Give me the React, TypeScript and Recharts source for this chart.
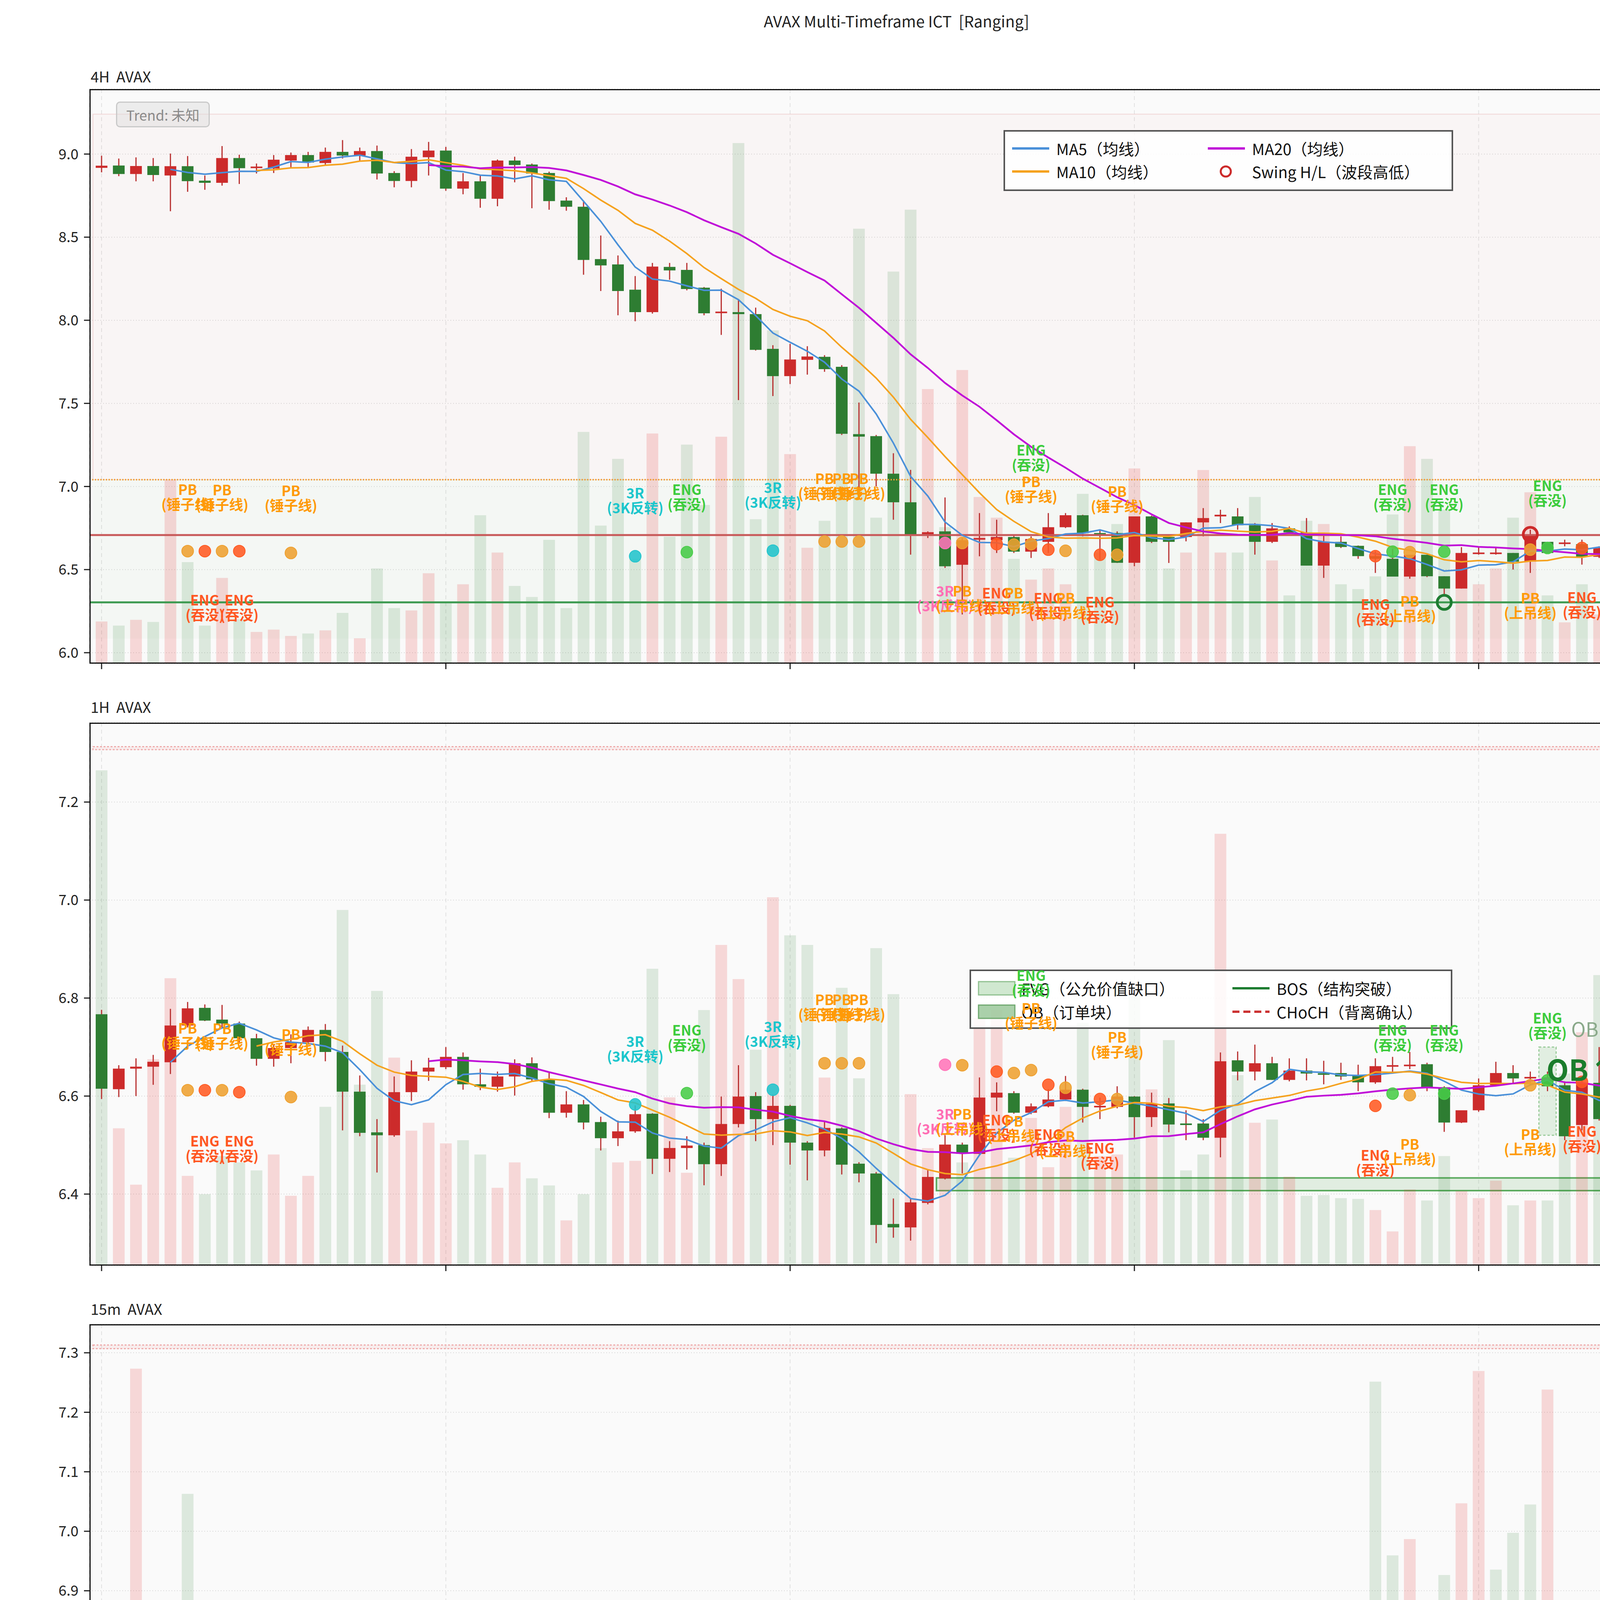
import React from 'react'
import {
  ComposedChart,
  Bar,
  Line,
  XAxis,
  YAxis,
  CartesianGrid,
  ReferenceArea,
  ReferenceLine,
  ReferenceDot,
  Cell,
} from 'recharts'

const FONT = '"Noto Sans CJK SC", "Noto Sans", sans-serif'
const W = 4293
const UP = '#cc2b2b'
const DOWN = '#2e7d32'
const WICK = '#b83030'
const VOL_UP = 'rgba(229,57,53,0.18)'
const VOL_DOWN = 'rgba(46,125,50,0.14)'
const MA5C = '#4a90d9'
const MA10C = '#f5a21f'
const MA20C = '#c010d8'

// ---- data: [open, high, low, close] per bar, index 0..89 ----
const h4Ohlc = [
  [8.917, 8.99, 8.89, 8.93], [8.931, 8.973, 8.867, 8.88], [8.88, 8.98, 8.836, 8.928], [8.928, 8.976, 8.836, 8.874], [8.871, 9.003, 8.656, 8.927],
  [8.927, 8.988, 8.773, 8.837], [8.84, 8.871, 8.785, 8.827], [8.827, 9.048, 8.81, 8.976], [8.976, 8.996, 8.82, 8.915], [8.916, 8.943, 8.883, 8.924],
  [8.913, 8.994, 8.886, 8.966], [8.961, 9.009, 8.919, 8.994], [8.994, 9.013, 8.919, 8.949], [8.946, 9.039, 8.931, 9.013], [9.013, 9.084, 8.973, 8.991],
  [8.991, 9.039, 8.961, 9.018], [9.018, 9.051, 8.847, 8.883], [8.886, 8.897, 8.8, 8.838], [8.838, 9.03, 8.8, 8.984], [8.981, 9.073, 8.871, 9.021],
  [9.021, 9.043, 8.779, 8.792], [8.792, 8.886, 8.758, 8.836], [8.836, 8.871, 8.677, 8.731], [8.731, 8.967, 8.686, 8.961], [8.961, 8.984, 8.83, 8.934],
  [8.937, 8.943, 8.674, 8.883], [8.886, 8.894, 8.665, 8.717], [8.72, 8.74, 8.659, 8.683], [8.683, 8.72, 8.274, 8.363], [8.368, 8.51, 8.176, 8.33],
  [8.336, 8.39, 8.03, 8.176], [8.184, 8.266, 7.994, 8.049], [8.049, 8.345, 8.04, 8.323], [8.321, 8.345, 8.244, 8.3], [8.303, 8.345, 8.18, 8.188],
  [8.196, 8.2, 8.03, 8.042], [8.043, 8.19, 7.912, 8.052], [8.049, 8.124, 7.52, 8.037], [8.037, 8.076, 7.818, 7.822], [7.828, 7.85, 7.544, 7.664],
  [7.664, 7.858, 7.616, 7.764], [7.762, 7.844, 7.673, 7.782], [7.78, 7.79, 7.69, 7.706], [7.72, 7.73, 7.31, 7.317], [7.315, 7.505, 6.98, 7.3],
  [7.303, 7.31, 7.0, 7.077], [7.077, 7.2, 6.8, 6.905], [6.905, 7.1, 6.59, 6.705], [6.705, 6.73, 6.69, 6.725], [6.73, 6.934, 6.51, 6.52],
  [6.529, 6.69, 6.23, 6.677], [6.68, 6.84, 6.58, 6.69], [6.677, 6.8, 6.6, 6.696], [6.696, 6.71, 6.6, 6.608], [6.608, 6.7, 6.57, 6.684],
  [6.667, 6.84, 6.6, 6.755], [6.755, 6.84, 6.75, 6.827], [6.827, 6.83, 6.7, 6.72], [6.72, 6.74, 6.56, 6.708], [6.72, 6.73, 6.54, 6.541],
  [6.541, 6.82, 6.52, 6.82], [6.82, 6.825, 6.66, 6.667], [6.696, 6.7, 6.54, 6.667], [6.696, 6.784, 6.67, 6.784], [6.784, 6.87, 6.7, 6.81],
  [6.82, 6.86, 6.78, 6.83], [6.82, 6.87, 6.74, 6.767], [6.767, 6.78, 6.59, 6.667], [6.667, 6.78, 6.66, 6.748], [6.748, 6.76, 6.72, 6.724],
  [6.724, 6.81, 6.524, 6.524], [6.524, 6.72, 6.45, 6.667], [6.667, 6.7, 6.63, 6.636], [6.643, 6.645, 6.565, 6.581], [6.581, 6.61, 6.48, 6.565],
  [6.565, 6.625, 6.458, 6.458], [6.458, 6.589, 6.445, 6.589], [6.589, 6.59, 6.455, 6.46], [6.46, 6.46, 6.35, 6.386], [6.386, 6.635, 6.386, 6.6],
  [6.596, 6.635, 6.59, 6.6], [6.596, 6.635, 6.59, 6.6], [6.6, 6.6, 6.5, 6.548], [6.548, 6.74, 6.48, 6.708], [6.667, 6.667, 6.6, 6.6],
  [6.655, 6.68, 6.64, 6.662], [6.653, 6.68, 6.53, 6.577], [6.577, 6.64, 6.57, 6.629], [6.636, 6.7, 6.53, 6.558], [6.605, 6.65, 6.53, 6.558],
]
const h4Vol = [
  26.6, 24, 27.6, 26.3, 116, 64, 24, 54, 28, 20,
  21.5, 17.5, 19, 21, 32, 16, 60, 35, 33.5, 57,
  38, 50, 93.5, 70, 49, 42, 78, 35, 146, 87,
  129, 66, 145, 80, 138, 100, 143, 328, 91, 210,
  132, 73, 90, 180, 274, 92, 247, 286, 173, 86,
  185, 105, 92, 66, 53, 60, 50, 107, 70, 88,
  123, 80, 60, 70, 122, 70, 70, 105, 65, 43,
  90, 88, 50, 47, 55, 94, 137, 129, 97, 60,
  50, 60, 92, 108, 43, 26, 50, 31, 90, 23,
]

const h1Ohlc = [
  [6.767, 6.776, 6.594, 6.615], [6.614, 6.663, 6.598, 6.656], [6.656, 6.677, 6.6, 6.66], [6.66, 6.684, 6.623, 6.67], [6.669, 6.778, 6.645, 6.744],
  [6.744, 6.792, 6.74, 6.779], [6.78, 6.787, 6.753, 6.754], [6.756, 6.786, 6.74, 6.748], [6.748, 6.752, 6.71, 6.718], [6.718, 6.727, 6.662, 6.676],
  [6.676, 6.705, 6.66, 6.698], [6.698, 6.726, 6.667, 6.71], [6.71, 6.742, 6.705, 6.735], [6.735, 6.747, 6.671, 6.69], [6.69, 6.703, 6.53, 6.609],
  [6.609, 6.642, 6.518, 6.525], [6.526, 6.553, 6.444, 6.52], [6.52, 6.64, 6.517, 6.608], [6.608, 6.673, 6.59, 6.65], [6.65, 6.678, 6.631, 6.658],
  [6.659, 6.7, 6.655, 6.68], [6.68, 6.689, 6.613, 6.624], [6.624, 6.656, 6.612, 6.619], [6.619, 6.65, 6.609, 6.64], [6.64, 6.675, 6.601, 6.667],
  [6.667, 6.679, 6.63, 6.634], [6.634, 6.65, 6.555, 6.566], [6.566, 6.61, 6.556, 6.583], [6.583, 6.592, 6.532, 6.546], [6.547, 6.558, 6.489, 6.514],
  [6.514, 6.55, 6.498, 6.528], [6.528, 6.581, 6.525, 6.563], [6.564, 6.565, 6.441, 6.472], [6.472, 6.508, 6.445, 6.494], [6.494, 6.518, 6.45, 6.499],
  [6.5, 6.505, 6.418, 6.461], [6.461, 6.599, 6.437, 6.543], [6.543, 6.663, 6.536, 6.599], [6.6, 6.608, 6.508, 6.553], [6.553, 6.603, 6.5, 6.58],
  [6.58, 6.582, 6.46, 6.505], [6.505, 6.508, 6.428, 6.489], [6.489, 6.548, 6.477, 6.535], [6.534, 6.536, 6.44, 6.46], [6.462, 6.465, 6.424, 6.442],
  [6.442, 6.445, 6.3, 6.337], [6.339, 6.391, 6.311, 6.332], [6.332, 6.39, 6.305, 6.383], [6.382, 6.45, 6.379, 6.435], [6.432, 6.52, 6.43, 6.501],
  [6.501, 6.505, 6.442, 6.482], [6.482, 6.638, 6.48, 6.597], [6.597, 6.628, 6.569, 6.607], [6.606, 6.61, 6.564, 6.566], [6.566, 6.585, 6.563, 6.579],
  [6.579, 6.614, 6.577, 6.593], [6.593, 6.641, 6.59, 6.613], [6.613, 6.615, 6.546, 6.578], [6.578, 6.597, 6.553, 6.579], [6.578, 6.62, 6.575, 6.599],
  [6.599, 6.6, 6.515, 6.557], [6.557, 6.607, 6.537, 6.584], [6.585, 6.596, 6.526, 6.542], [6.543, 6.571, 6.51, 6.542], [6.544, 6.553, 6.51, 6.515],
  [6.515, 6.689, 6.475, 6.671], [6.673, 6.691, 6.632, 6.65], [6.65, 6.705, 6.632, 6.667], [6.667, 6.68, 6.633, 6.633], [6.633, 6.677, 6.63, 6.652],
  [6.652, 6.677, 6.632, 6.646], [6.646, 6.672, 6.624, 6.644], [6.647, 6.668, 6.633, 6.64], [6.642, 6.664, 6.61, 6.628], [6.628, 6.677, 6.625, 6.661],
  [6.661, 6.68, 6.646, 6.662], [6.661, 6.69, 6.655, 6.664], [6.665, 6.668, 6.61, 6.618], [6.618, 6.62, 6.527, 6.546], [6.546, 6.558, 6.545, 6.571],
  [6.571, 6.636, 6.568, 6.622], [6.622, 6.67, 6.62, 6.647], [6.647, 6.663, 6.625, 6.636], [6.637, 6.65, 6.623, 6.638], [6.638, 6.65, 6.61, 6.62],
  [6.622, 6.63, 6.51, 6.518], [6.541, 6.64, 6.53, 6.627], [6.627, 6.7, 6.55, 6.553], [6.551, 6.63, 6.515, 6.622], [6.623, 6.652, 6.606, 6.61],
]
const h1Vol = [
  312, 86.5, 51, 130, 181, 56.5, 45, 69, 65, 60,
  70, 44, 56.5, 100, 224, 114, 173, 131, 85, 90,
  77, 79, 70, 49, 65, 55, 50.5, 28.5, 45, 74,
  65, 66, 187, 106, 58.5, 161, 202, 180.5, 136, 232,
  208, 202, 118.5, 175, 118, 200, 171, 108, 74, 70,
  65, 156, 161, 68, 93, 62, 100, 153, 69, 70,
  172, 111, 142, 60, 70, 272, 120, 90, 92, 56,
  44, 44.5, 42.5, 42, 35, 21.5, 48, 41, 69, 47,
  42.5, 53.5, 38, 41, 41, 121, 147, 183, 83, 29,
]

const m15Ohlc = [
  [6.649, 6.668, 6.633, 6.651], [6.65, 6.669, 6.647, 6.657], [6.656, 6.707, 6.655, 6.676], [6.676, 6.678, 6.661, 6.667], [6.668, 6.678, 6.656, 6.661],
  [6.662, 6.67, 6.612, 6.621], [6.622, 6.625, 6.605, 6.609], [6.609, 6.636, 6.605, 6.634], [6.634, 6.672, 6.633, 6.667], [6.666, 6.668, 6.645, 6.646],
  [6.646, 6.652, 6.642, 6.65], [6.654, 6.667, 6.64, 6.65], [6.649, 6.667, 6.645, 6.652], [6.652, 6.663, 6.647, 6.663], [6.663, 6.677, 6.638, 6.642],
  [6.641, 6.655, 6.629, 6.645], [6.647, 6.649, 6.625, 6.637], [6.638, 6.64, 6.632, 6.633], [6.633, 6.672, 6.632, 6.657], [6.657, 6.66, 6.644, 6.644],
  [6.644, 6.664, 6.637, 6.656], [6.656, 6.66, 6.645, 6.658], [6.658, 6.667, 6.652, 6.654], [6.653, 6.654, 6.638, 6.64], [6.64, 6.641, 6.622, 6.633],
  [6.634, 6.637, 6.601, 6.616], [6.617, 6.623, 6.612, 6.6175], [6.617, 6.63, 6.615, 6.627], [6.627, 6.672, 6.627, 6.662], [6.663, 6.667, 6.644, 6.652],
  [6.654, 6.677, 6.652, 6.67], [6.675, 6.678, 6.664, 6.668], [6.661, 6.665, 6.652, 6.662], [6.661, 6.665, 6.637, 6.65], [6.653, 6.656, 6.637, 6.649],
  [6.649, 6.659, 6.648, 6.659], [6.659, 6.661, 6.641, 6.645], [6.645, 6.679, 6.645, 6.676], [6.676, 6.688, 6.665, 6.673], [6.675, 6.676, 6.661, 6.664],
  [6.666, 6.667, 6.63, 6.635], [6.637, 6.648, 6.636, 6.64], [6.638, 6.643, 6.614, 6.627], [6.628, 6.633, 6.612, 6.619], [6.617, 6.62, 6.59, 6.593],
  [6.594, 6.596, 6.567, 6.572], [6.571, 6.573, 6.526, 6.543], [6.543, 6.556, 6.542, 6.546], [6.545, 6.566, 6.54, 6.563], [6.563, 6.575, 6.555, 6.567],
  [6.567, 6.575, 6.55, 6.552], [6.552, 6.575, 6.55, 6.571], [6.571, 6.598, 6.57, 6.587], [6.587, 6.624, 6.584, 6.624], [6.624, 6.625, 6.598, 6.603],
  [6.603, 6.633, 6.6, 6.624], [6.624, 6.628, 6.62, 6.626], [6.626, 6.65, 6.625, 6.649], [6.648, 6.658, 6.645, 6.658], [6.658, 6.659, 6.64, 6.647],
  [6.646, 6.657, 6.64, 6.649], [6.649, 6.652, 6.615, 6.625], [6.626, 6.652, 6.624, 6.638], [6.638, 6.645, 6.633, 6.639], [6.637, 6.658, 6.636, 6.655],
  [6.655, 6.658, 6.648, 6.65], [6.651, 6.652, 6.63, 6.638], [6.646, 6.648, 6.635, 6.637], [6.638, 6.64, 6.632, 6.635], [6.635, 6.64, 6.612, 6.617],
  [6.617, 6.632, 6.614, 6.616], [6.616, 6.623, 6.612, 6.617], [6.617, 6.623, 6.598, 6.61], [6.611, 6.612, 6.588, 6.594], [6.596, 6.597, 6.527, 6.551],
  [6.552, 6.56, 6.527, 6.541], [6.541, 6.578, 6.537, 6.575], [6.576, 6.605, 6.557, 6.601], [6.601, 6.633, 6.593, 6.594], [6.594, 6.673, 6.593, 6.668],
  [6.668, 6.7, 6.665, 6.697], [6.697, 6.7, 6.648, 6.65], [6.651, 6.657, 6.62, 6.623], [6.623, 6.626, 6.55, 6.553], [6.551, 6.602, 6.549, 6.594],
  [6.594, 6.61, 6.568, 6.59], [6.594, 6.608, 6.58, 6.601], [6.601, 6.626, 6.59, 6.623], [6.623, 6.64, 6.62, 6.632], [6.624, 6.628, 6.608, 6.611],
]
const m15Vol = [
  103.6, 124.5, 297, 86, 70, 218, 96.5, 85, 101.6, 37.4,
  68.5, 64, 56.8, 60, 53.2, 37.4, 40.6, 17.7, 103, 49,
  92.7, 25, 42, 40.4, 64, 75, 38.4, 21.6, 75.4, 35,
  34.8, 21.3, 12.5, 24.6, 42.7, 21.3, 46.4, 101.9, 56.1, 24.6,
  60, 17.9, 48.6, 48.2, 125.4, 126.5, 124.4, 106, 51, 60,
  53, 83, 70, 109, 60, 51, 56, 64, 82, 55,
  40, 49, 52, 38, 38, 24, 94, 38, 73, 48,
  47, 43.4, 42, 50, 288.8, 179.2, 189.5, 139.8, 166.8, 212,
  295.5, 170.2, 193.4, 211.3, 283.8, 115, 70.7, 45, 123.2, 16.4,
]

const m3Ohlc = [
  [6.6237, 6.629, 6.621, 6.626], [6.6246, 6.625, 6.607, 6.61], [6.61, 6.619, 6.609, 6.618], [6.618, 6.62, 6.608, 6.615], [6.615, 6.616, 6.607, 6.612],
  [6.6124, 6.616, 6.6115, 6.6128], [6.6125, 6.618, 6.6086, 6.6088], [6.609, 6.614, 6.597, 6.611], [6.611, 6.6125, 6.607, 6.6088], [6.6125, 6.618, 6.61, 6.6167],
  [6.6156, 6.6158, 6.597, 6.597], [6.5968, 6.6, 6.589, 6.5998], [6.599, 6.6, 6.582, 6.595], [6.597, 6.605, 6.56, 6.569], [6.567, 6.582, 6.558, 6.582],
  [6.581, 6.582, 6.571, 6.5755], [6.575, 6.582, 6.545, 6.55], [6.55, 6.554, 6.527, 6.552], [6.5515, 6.558, 6.551, 6.554], [6.553, 6.554, 6.541, 6.5535],
  [6.553, 6.558, 6.5355, 6.5357], [6.5365, 6.537, 6.5197, 6.53], [6.53, 6.543, 6.526, 6.543], [6.544, 6.5655, 6.537, 6.5515], [6.5515, 6.559, 6.548, 6.548],
  [6.548, 6.5725, 6.548, 6.5677], [6.566, 6.573, 6.566, 6.572], [6.572, 6.5775, 6.565, 6.577], [6.577, 6.5855, 6.575, 6.575], [6.575, 6.577, 6.5585, 6.5696],
  [6.5714, 6.5838, 6.555, 6.569], [6.5696, 6.594, 6.5696, 6.5847], [6.5847, 6.602, 6.584, 6.602], [6.6016, 6.607, 6.589, 6.591], [6.5905, 6.6155, 6.588, 6.608],
  [6.608, 6.633, 6.608, 6.6295], [6.6295, 6.631, 6.6095, 6.6095], [6.611, 6.617, 6.591, 6.595], [6.5956, 6.6036, 6.589, 6.597], [6.595, 6.615, 6.595, 6.615],
  [6.6137, 6.6675, 6.6085, 6.656], [6.656, 6.6735, 6.6535, 6.667], [6.6667, 6.668, 6.66, 6.668], [6.668, 6.678, 6.667, 6.67], [6.669, 6.672, 6.648, 6.672],
  [6.671, 6.6835, 6.67, 6.674], [6.674, 6.686, 6.668, 6.683], [6.682, 6.697, 6.681, 6.697], [6.697, 6.7, 6.69, 6.6926], [6.693, 6.694, 6.663, 6.664],
  [6.665, 6.6715, 6.6555, 6.663], [6.664, 6.676, 6.664, 6.674], [6.676, 6.6765, 6.651, 6.651], [6.653, 6.656, 6.646, 6.647], [6.647, 6.6555, 6.632, 6.6555],
  [6.654, 6.6555, 6.623, 6.623], [6.624, 6.632, 6.6167, 6.6167], [6.6167, 6.627, 6.612, 6.624], [6.624, 6.624, 6.59, 6.592], [6.5928, 6.594, 6.5826, 6.5932],
  [6.594, 6.599, 6.588, 6.5945], [6.5956, 6.596, 6.563, 6.566], [6.566, 6.567, 6.546, 6.5534], [6.5527, 6.561, 6.528, 6.528], [6.5255, 6.5542, 6.5232, 6.5538],
  [6.5534, 6.564, 6.55, 6.56], [6.5575, 6.568, 6.55, 6.5657], [6.565, 6.6, 6.563, 6.5914], [6.5928, 6.5928, 6.586, 6.586], [6.586, 6.5905, 6.563, 6.572],
  [6.5696, 6.5812, 6.565, 6.5698], [6.5696, 6.5824, 6.566, 6.5824], [6.5824, 6.591, 6.58, 6.587], [6.587, 6.598, 6.585, 6.5963], [6.5963, 6.5986, 6.575, 6.58],
  [6.58, 6.595, 6.578, 6.5905], [6.6086, 6.617, 6.6, 6.601], [6.6025, 6.605, 6.595, 6.598], [6.598, 6.608, 6.597, 6.608], [6.608, 6.6195, 6.607, 6.6137],
  [6.6125, 6.6225, 6.612, 6.6207], [6.6207, 6.622, 6.611, 6.6125], [6.6125, 6.6235, 6.612, 6.6225], [6.6232, 6.6245, 6.6195, 6.6207], [6.6207, 6.625, 6.618, 6.623],
  [6.6341, 6.6536, 6.632, 6.6387], [6.6387, 6.6415, 6.627, 6.6295], [6.6295, 6.631, 6.623, 6.624], [6.624, 6.626, 6.617, 6.618], [6.618, 6.62, 6.608, 6.61],
]
const m3Vol = [
  18, 38.5, 8.5, 23.8, 4.8, 10.3, 5.2, 45, 19.3, 9.1,
  12.4, 53.8, 25.5, 166.4, 56.7, 23.4, 280.8, 97, 59.3, 60.4,
  60.8, 156, 50, 156.4, 101, 38, 35, 75.7, 58, 54,
  63.9, 62.2, 63, 61, 31, 131, 91, 40, 29, 30.4,
  262.7, 68.8, 67.6, 225.8, 90, 128.6, 113.3, 102.3, 120.4, 30.4,
  78, 35.6, 102.6, 60, 176.9, 80, 60, 64.7, 133.3, 100,
  35.4, 54.4, 131.8, 200, 202, 23.2, 35, 144.7, 62.7, 50,
  21, 19, 14.1, 17.8, 31, 22.2, 37, 36, 17.4, 24.2,
  29, 13.8, 11.4, 25.2, 30, 128, 26.5, 28, 25, 8.4,
]

const dateTicks = [0, 11, 22, 33, 44, 55, 66, 77, 88]
const dateLabels = [
  '06-12 12:51', '06-12 13:24', '06-12 13:57', '06-12 14:30', '06-12 15:03',
  '06-12 15:36', '06-12 16:09', '06-12 16:42', '06-12 17:15',
]
const plainTicks = [0, 20, 40, 60, 80]

// pattern labels: [kind, bar index, price]
const h4Labels = [
  ['PBH', 5, 6.943], ['PBH', 7, 6.94], ['PBH', 11, 6.936], ['ENGR', 6, 6.277], ['ENGR', 8, 6.277],
  ['R3C', 31, 6.922], ['ENGG', 34, 6.943], ['R3C', 39, 6.955], ['PBH', 42, 7.008], ['PBH', 43, 7.008], ['PBH', 44, 7.008],
  ['ENGG', 54, 7.18], ['PBH', 54, 6.99], ['PBH', 59, 6.93], ['R3P', 49, 6.332], ['PBU', 50, 6.332],
  ['ENGR', 52, 6.32], ['PBU', 53, 6.32], ['ENGR', 55, 6.29], ['PBU', 56, 6.29], ['ENGR', 58, 6.265],
  ['ENGG', 75, 6.942], ['ENGG', 78, 6.942], ['ENGR', 74, 6.252], ['PBU', 76, 6.271], ['ENGG', 84, 6.966],
  ['PBU', 83, 6.288], ['ENGR', 86, 6.294],
]
const h4Dots = [
  ['PB', 5, 6.611], ['ENGR', 6, 6.611], ['PB', 7, 6.611], ['ENGR', 8, 6.611], ['PB', 11, 6.6], ['R3C', 31, 6.58],
  ['ENGG', 34, 6.605], ['R3C', 39, 6.614], ['PB', 42, 6.669], ['PB', 43, 6.669], ['PB', 44, 6.669], ['R3P', 49, 6.66],
  ['PB', 50, 6.66], ['ENGR', 52, 6.653], ['PB', 53, 6.65], ['PB', 54, 6.653], ['ENGR', 55, 6.62], ['PB', 56, 6.613],
  ['ENGR', 58, 6.589], ['PB', 59, 6.589], ['ENGR', 74, 6.581], ['ENGG', 75, 6.608], ['PB', 76, 6.605], ['ENGG', 78, 6.608],
  ['PB', 83, 6.62], ['ENGG', 84, 6.63], ['ENGR', 86, 6.63],
]
const h1Labels = [
  ['PBH', 5, 6.725], ['PBH', 7, 6.724], ['PBH', 11, 6.712], ['ENGR', 6, 6.495], ['ENGR', 8, 6.495],
  ['R3C', 31, 6.698], ['ENGG', 34, 6.721], ['R3C', 39, 6.728], ['PBH', 42, 6.783], ['PBH', 43, 6.783], ['PBH', 44, 6.783],
  ['R3P', 49, 6.55], ['PBU', 50, 6.55], ['ENGR', 52, 6.538], ['PBU', 53, 6.535], ['ENGR', 55, 6.508], ['PBU', 56, 6.504],
  ['ENGR', 58, 6.48], ['PBH', 59, 6.707], ['ENGG', 54, 6.833], ['PBH', 54, 6.766], ['ENGG', 75, 6.721], ['ENGG', 78, 6.721],
  ['ENGR', 74, 6.466], ['PBU', 76, 6.488], ['PBU', 83, 6.508], ['ENGG', 84, 6.746], ['ENGR', 86, 6.515],
]
const h1Dots = [
  ['PB', 5, 6.612], ['ENGR', 6, 6.612], ['PB', 7, 6.612], ['ENGR', 8, 6.608], ['PB', 11, 6.598], ['R3C', 31, 6.583],
  ['ENGG', 34, 6.606], ['R3C', 39, 6.613], ['PB', 42, 6.667], ['PB', 43, 6.667], ['PB', 44, 6.667], ['R3P', 49, 6.664],
  ['PB', 50, 6.663], ['ENGR', 52, 6.65], ['PB', 53, 6.647], ['PB', 54, 6.653], ['ENGR', 55, 6.623], ['PB', 56, 6.617],
  ['ENGR', 58, 6.594], ['PB', 59, 6.594], ['ENGR', 74, 6.58], ['ENGG', 75, 6.605], ['PB', 76, 6.602], ['ENGG', 78, 6.605],
  ['PB', 83, 6.622], ['ENGG', 84, 6.632], ['ENGR', 86, 6.629],
]
const m15Labels = [
  ['PBH', 5, 6.708], ['PBH', 7, 6.705], ['PBH', 11, 6.694], ['ENGR', 6, 6.516], ['ENGR', 8, 6.516],
  ['R3C', 31, 6.68], ['ENGG', 34, 6.702], ['R3C', 39, 6.708], ['PBH', 42, 6.762], ['PBH', 43, 6.762], ['PBH', 44, 6.762],
  ['ENGG', 54, 6.8], ['PBH', 54, 6.749], ['R3P', 49, 6.573], ['PBU', 50, 6.573], ['ENGR', 52, 6.56], ['PBU', 53, 6.553],
  ['ENGR', 55, 6.527], ['PBU', 56, 6.527], ['ENGR', 58, 6.5], ['PBH', 59, 6.688], ['ENGG', 75, 6.702], ['ENGG', 78, 6.702],
  ['ENGR', 74, 6.486], ['PBU', 76, 6.507], ['PBU', 83, 6.526], ['ENGG', 84, 6.729], ['ENGR', 86, 6.534],
]
const m15Dots = [
  ['PB', 5, 6.613], ['ENGR', 6, 6.609], ['PB', 7, 6.613], ['ENGR', 8, 6.609], ['PB', 11, 6.599], ['R3C', 31, 6.584],
  ['ENGG', 34, 6.607], ['R3C', 39, 6.614], ['PB', 42, 6.668], ['PB', 43, 6.668], ['PB', 44, 6.668], ['R3P', 49, 6.664],
  ['PB', 50, 6.663], ['ENGR', 52, 6.651], ['PB', 53, 6.647], ['PB', 54, 6.653], ['ENGR', 55, 6.624], ['PB', 56, 6.617],
  ['ENGR', 58, 6.593], ['PB', 59, 6.593], ['ENGR', 74, 6.58], ['ENGG', 75, 6.606], ['PB', 76, 6.602], ['ENGG', 78, 6.608],
  ['PB', 83, 6.621], ['ENGG', 84, 6.634], ['ENGR', 86, 6.628],
]

const LABEL_STYLE: Record<string, [string, string, string]> = {
  PBH: ['PB', '(锤子线)', '#ff9a06'],
  PBU: ['PB', '(上吊线)', '#ff9a06'],
  ENGG: ['ENG', '(吞没)', '#3ccc3c'],
  ENGR: ['ENG', '(吞没)', '#ff5722'],
  R3C: ['3R', '(3K反转)', '#1cc6cc'],
  R3P: ['3R', '(3K反转)', '#ff6eb4'],
}
const DOT_COLOR: Record<string, string> = {
  PB: '#eea030',
  ENGR: '#ff5a22',
  ENGG: '#48cc48',
  R3C: '#22c4cc',
  R3P: '#ff74b8',
}

function buildRows(ohlc: number[][], vol: number[]) {
  const closes = ohlc.map((r) => r[3])
  const ma = (n: number, i: number) =>
    i < n - 1 ? null : closes.slice(i - n + 1, i + 1).reduce((a, b) => a + b, 0) / n
  return ohlc.map(([o, h, l, c], i) => ({
    i, o, h, l, c, vol: vol[i], ma5: ma(5, i), ma10: ma(10, i), ma20: ma(20, i),
  }))
}

function Candle(props: any) {
  const { x, y, width, height, payload } = props
  if (!payload || !isFinite(y) || !isFinite(height)) return <g />
  const { o, h, l, c } = payload
  const k = h > l ? height / (h - l) : 0
  const top = y + (h - Math.max(o, c)) * k
  const bot = y + (h - Math.min(o, c)) * k
  const bh = Math.max(bot - top, 4)
  const cx = x + width / 2
  return (
    <g>
      <line x1={cx} x2={cx} y1={y} y2={y + height} stroke={WICK} strokeWidth={3} />
      <rect x={x} y={(top + bot) / 2 - bh / 2} width={width} height={bh} fill={c >= o ? UP : DOWN} />
    </g>
  )
}

const EmptyTick = () => <g />

function DateTick(props: any) {
  const { x, y, payload } = props
  const label = dateLabels[Math.round(payload.value / 11)]
  return (
    <g transform={`translate(${x - 8},${y + 20}) rotate(-30)`}>
      <text x={0} y={0} dy={29} textAnchor="end" fontSize={38} fill="#222" fontFamily={FONT}>
        {label}
      </text>
    </g>
  )
}

function labelMarks(list: any[], pre: string) {
  return list.map(([kind, i, p], k) => {
    const [t1, t2, color] = LABEL_STYLE[kind]
    return (
      <ReferenceDot
        key={pre + 'l' + k}
        x={i}
        y={p}
        r={1}
        ifOverflow="visible"
        shape={(s: any) => (
          <g fontFamily={FONT} fontSize={36} fontWeight={700} fill={color} textAnchor="middle">
            <text x={s.cx} y={s.cy - 19} dominantBaseline="central">{t1}</text>
            <text x={s.cx} y={s.cy + 19} dominantBaseline="central">{t2}</text>
          </g>
        )}
      />
    )
  })
}

function dotMarks(list: any[], pre: string) {
  return list.map(([kind, i, p], k) => (
    <ReferenceDot
      key={pre + 'd' + k}
      x={i}
      y={p}
      r={1}
      ifOverflow="visible"
      shape={(s: any) => (
        <circle cx={s.cx} cy={s.cy} r={15} fill={DOT_COLOR[kind]} fillOpacity={0.88} stroke={DOT_COLOR[kind]} strokeWidth={2} />
      )}
    />
  ))
}

function textMark(key: string, i: number, p: number, t: string, color: string, size: number, weight = 400, dx = 0) {
  return (
    <ReferenceDot
      key={key}
      x={i}
      y={p}
      r={1}
      ifOverflow="visible"
      shape={(s: any) => (
        <text x={s.cx + dx} y={s.cy} textAnchor="middle" dominantBaseline="central" fontSize={size} fontWeight={weight} fill={color} fontFamily={FONT}>
          {t}
        </text>
      )}
    />
  )
}

function ringMark(key: string, i: number, p: number, color: string, r: number) {
  return (
    <ReferenceDot
      key={key}
      x={i}
      y={p}
      r={1}
      ifOverflow="visible"
      shape={(s: any) => <circle cx={s.cx} cy={s.cy} r={r} fill="none" stroke={color} strokeWidth={7} />}
    />
  )
}

function triMark(key: string, i: number, p: number) {
  return (
    <ReferenceDot
      key={key}
      x={i}
      y={p}
      r={1}
      ifOverflow="visible"
      shape={(s: any) => (
        <path d={`M${s.cx},${s.cy - 24} L${s.cx + 14},${s.cy + 18} L${s.cx - 14},${s.cy + 18} Z`} fill="#ff8c00" stroke="#a85a00" strokeWidth={2} />
      )}
    />
  )
}

function crossMark(key: string, i: number, p: number) {
  return (
    <ReferenceDot
      key={key}
      x={i}
      y={p}
      r={1}
      ifOverflow="visible"
      shape={(s: any) => (
        <g stroke="#1fb0ea" strokeWidth={11}>
          <line x1={s.cx - 28} y1={s.cy - 30} x2={s.cx + 28} y2={s.cy + 30} />
          <line x1={s.cx - 28} y1={s.cy + 30} x2={s.cx + 28} y2={s.cy - 30} />
        </g>
      )}
    />
  )
}

// legend box drawn inside the chart svg at fixed pixel position (x, y relative to the chart)
function legendMark(key: string, anchorY: number, x: number, y: number, w: number, h: number, body: any) {
  return (
    <ReferenceDot
      key={key}
      x={0}
      y={anchorY}
      r={1}
      ifOverflow="visible"
      shape={() => (
        <g transform={`translate(${x},${y})`} fontFamily={FONT} fontSize={40} fill="#111">
          <rect x={2} y={2} width={w - 4} height={h - 4} fill="rgba(255,255,255,0.85)" stroke="#555" strokeWidth={4} />
          {body}
        </g>
      )}
    />
  )
}

const LegText = ({ x, y, t }: any) => (
  <text x={x} y={y} dominantBaseline="central">{t}</text>
)

const maLegendBody = (
  <g>
    <line x1={22} x2={117} y1={47} y2={47} stroke={MA5C} strokeWidth={6} />
    <LegText x={135} y={47} t="MA5（均线）" />
    <line x1={22} x2={117} y1={106} y2={106} stroke={MA10C} strokeWidth={6} />
    <LegText x={135} y={106} t="MA10（均线）" />
    <line x1={523} x2={618} y1={47} y2={47} stroke={MA20C} strokeWidth={6} />
    <LegText x={636} y={47} t="MA20（均线）" />
    <circle cx={569} cy={106} r={13} fill="none" stroke="#cc2a2a" strokeWidth={5} />
    <LegText x={636} y={106} t="Swing H/L（波段高低）" />
  </g>
)

const smcLegendBody = (
  <g>
    <rect x={23} y={31} width={93} height={34} fill="rgba(150,205,150,0.45)" stroke="#8fc08f" strokeWidth={3} />
    <LegText x={133} y={48} t="FVG（公允价值缺口）" />
    <rect x={23} y={91} width={93} height={34} fill="rgba(100,170,100,0.55)" stroke="#6fa86f" strokeWidth={3} />
    <LegText x={133} y={108} t="OB（订单块）" />
    <line x1={673} x2={768} y1={48} y2={48} stroke="#1e7d32" strokeWidth={6} />
    <LegText x={786} y={48} t="BOS（结构突破）" />
    <line x1={673} x2={768} y1={108} y2={108} stroke="#cc3333" strokeWidth={6} strokeDasharray="18 10" />
    <LegText x={786} y={108} t="CHoCH（背离确认）" />
  </g>
)

const eqLegendBody = (
  <g>
    <line x1={24} x2={115} y1={48} y2={48} stroke="#8e44ad" strokeWidth={6} strokeDasharray="14 8" />
    <LegText x={133} y={48} t="EQH（等值高点）" />
    <line x1={24} x2={115} y1={112} y2={112} stroke="#2ca02c" strokeWidth={6} strokeDasharray="14 8" />
    <LegText x={133} y={112} t="EQL（等值低点）" />
    <path d="M641,30 L654,64 L628,64 Z" fill="#ff8c00" stroke="#111" strokeWidth={3} />
    <LegText x={707} y={48} t="Displacement（位移）" />
  </g>
)

const topZone = (pre: string) => (
  <ReferenceArea
    key={pre + 'pz'}
    x1={0}
    x2={89}
    y1={7.307}
    y2={7.313}
    ifOverflow="visible"
    fill="rgba(240,150,150,0.25)"
    stroke="#eeaaaa"
    strokeWidth={3}
    strokeDasharray="5 4"
  />
)

interface PanelProps {
  top: number
  plotH: number
  xh: number
  rows: any[]
  volMax: number
  domain: [number, number]
  yTicks: number[]
  xTicks: number[]
  dates?: boolean
  back?: any[]
  mid?: any[]
  front?: any[]
}

function Panel({ top, plotH, xh, rows, volMax, domain, yTicks, xTicks, dates, back, mid, front }: PanelProps) {
  const H = 10 + plotH + xh
  const pad = { left: 9, right: 8 }
  return (
    <div style={{ position: 'absolute', left: 0, top }}>
      <ComposedChart width={W} height={H} data={rows} margin={{ top: 10, right: 81, bottom: 0, left: 109 }} style={{ fontFamily: FONT }}>
        <CartesianGrid vertical={false} stroke="#d6d6d6" strokeWidth={2} strokeDasharray="2 5" fill="#fafafa" />
        <CartesianGrid horizontal={false} stroke="#e2e2e2" strokeWidth={2} strokeDasharray="10 8" />
        <XAxis
          dataKey="i"
          type="category"
          allowDuplicatedCategory={false}
          ticks={xTicks}
          interval={0}
          padding={pad}
          height={xh}
          axisLine={false}
          tickLine={{ stroke: '#222', strokeWidth: 3 }}
          tickSize={14}
          tick={dates ? <DateTick /> : <EmptyTick />}
        />
        <XAxis xAxisId="vol" dataKey="i" type="category" hide padding={pad} />
        <YAxis
          type="number"
          domain={domain}
          allowDataOverflow
          ticks={yTicks}
          interval={0}
          width={120}
          axisLine={false}
          tickLine={{ stroke: '#222', strokeWidth: 3 }}
          tickSize={14}
          tickMargin={14}
          tick={{ fontSize: 37, fill: '#222', fontFamily: FONT }}
          tickFormatter={(v: number) => v.toFixed(1)}
        />
        <YAxis yAxisId="vol" hide domain={[0, volMax]} allowDataOverflow />
        {back}
        <Bar xAxisId="vol" yAxisId="vol" dataKey="vol" barSize={30} isAnimationActive={false}>
          {rows.map((r) => (
            <Cell key={r.i} fill={r.c >= r.o ? VOL_UP : VOL_DOWN} />
          ))}
        </Bar>
        {mid}
        <Bar dataKey={(d: any) => [d.l, d.h]} barSize={30} isAnimationActive={false} shape={(p: any) => <Candle {...p} />} />
        <Line dataKey="ma5" stroke={MA5C} strokeWidth={4} dot={false} activeDot={false} isAnimationActive={false} />
        <Line dataKey="ma10" stroke={MA10C} strokeWidth={4} dot={false} activeDot={false} isAnimationActive={false} />
        <Line dataKey="ma20" stroke={MA20C} strokeWidth={4.5} dot={false} activeDot={false} isAnimationActive={false} />
        {front}
      </ComposedChart>
      <div
        style={{
          position: 'absolute', left: 229, top: 10, width: 3983, height: plotH,
          border: '3.5px solid #111', boxSizing: 'border-box', pointerEvents: 'none',
        }}
      />
    </div>
  )
}

const h4Rows = buildRows(h4Ohlc, h4Vol)
const h1Rows = buildRows(h1Ohlc, h1Vol)
const m15Rows = buildRows(m15Ohlc, m15Vol)
const m3Rows = buildRows(m3Ohlc, m3Vol)

const titleStyle = (top: number): React.CSSProperties => ({
  position: 'absolute', left: 232, top: top - 22, fontSize: 38, lineHeight: '44px', color: '#222', whiteSpace: 'pre',
})

export default function App() {
  return (
    <div style={{ position: 'relative', width: W, height: 6370, background: '#fff', fontFamily: FONT, overflow: 'hidden' }}>
      <style>{'body{margin:0}'}</style>
      <div style={{ position: 'absolute', left: 1795, width: 1000, top: 28, textAlign: 'center', fontSize: 40, lineHeight: '50px', color: '#222', whiteSpace: 'pre' }}>
        {'AVAX Multi-Timeframe ICT  [Ranging]'}
      </div>

      <div style={titleStyle(195)}>{'4H  AVAX'}</div>
      <Panel
        top={218}
        plotH={1471}
        xh={40}
        rows={h4Rows}
        volMax={362}
        domain={[5.934, 9.391]}
        yTicks={[6.0, 6.5, 7.0, 7.5, 8.0, 8.5, 9.0]}
        xTicks={plainTicks}
        back={[
          <ReferenceArea key="pz" y1={7.041} y2={9.24} fill="rgba(220,90,90,0.055)" stroke="rgba(220,120,120,0.25)" strokeWidth={2} ifOverflow="visible" />,
          <ReferenceArea key="dz" y1={6.085} y2={7.041} fill="rgba(70,160,70,0.06)" ifOverflow="visible" />,
        ]}
        mid={[
          <ReferenceLine key="eq" y={7.041} stroke="#f0a030" strokeWidth={4} strokeDasharray="3 4" />,
          <ReferenceLine key="rl" y={6.708} stroke="#c85a5a" strokeWidth={5} />,
          <ReferenceLine key="gl" y={6.303} stroke="#3c9a50" strokeWidth={5} />,
        ]}
        front={[
          legendMark('leg', 6.0, 2569, 115, 1151, 156, maLegendBody),
          ...dotMarks(h4Dots, 'h4'),
          ...labelMarks(h4Labels, 'h4'),
          ringMark('sh', 83, 6.712, '#cc2a2a', 18),
          ringMark('sl', 78, 6.303, '#1e7d32', 18),
        ]}
      />
      <div
        style={{
          position: 'absolute', left: 297, top: 260, width: 240, height: 66, boxSizing: 'border-box',
          border: '3px solid #c9c9c9', borderRadius: 10, background: 'rgba(220,220,220,0.45)',
          color: '#8a8a8a', fontSize: 36, lineHeight: '60px', textAlign: 'center',
        }}
      >
        Trend: 未知
      </div>

      <div style={titleStyle(1809)}>{'1H  AVAX'}</div>
      <Panel
        top={1840}
        plotH={1390}
        xh={40}
        rows={h1Rows}
        volMax={342}
        domain={[6.254, 7.362]}
        yTicks={[6.4, 6.6, 6.8, 7.0, 7.2]}
        xTicks={plainTicks}
        back={[topZone('h1')]}
        mid={[
          <ReferenceArea key="ob" x1={49} x2={89} y1={6.407} y2={6.433} fill="rgba(76,160,80,0.28)" stroke="#5aaa5e" strokeWidth={4} ifOverflow="visible" />,
        ]}
        front={[
          <ReferenceArea key="fvg" x1={84} x2={84} y1={6.52} y2={6.7} fill="rgba(150,205,150,0.5)" stroke="#9acb9a" strokeWidth={3} strokeDasharray="6 5" ifOverflow="visible" />,
          legendMark('leg', 6.4, 2482, 642, 1236, 152, smcLegendBody),
          ...dotMarks(h1Dots, 'h1'),
          ...labelMarks(h1Labels, 'h1'),
          textMark('obl', 87, 6.739, 'OB ↑', '#8aa98a', 50, 400, -6),
          textMark('obb', 86, 6.657, 'OB↑', '#1b7d2c', 74, 700),
          crossMark('x', 88, 6.526),
        ]}
      />

      <div style={titleStyle(3350)}>{'15m  AVAX'}</div>
      <Panel
        top={3380}
        plotH={1319}
        xh={40}
        rows={m15Rows}
        volMax={325}
        domain={[6.482, 7.348]}
        yTicks={[6.5, 6.6, 6.7, 6.8, 6.9, 7.0, 7.1, 7.2, 7.3]}
        xTicks={plainTicks}
        back={[topZone('m15')]}
        mid={[
          <ReferenceArea key="ob" x1={53} x2={89} y1={6.583} y2={6.589} fill="rgba(76,160,80,0.35)" stroke="#5aaa5e" strokeWidth={4} ifOverflow="visible" />,
        ]}
        front={[
          legendMark('leg', 6.5, 2482, 884, 1236, 153, smcLegendBody),
          <ReferenceArea key="fvg" x1={68} x2={68} y1={6.52} y2={6.7} fill="rgba(150,205,150,0.5)" stroke="#9acb9a" strokeWidth={3} strokeDasharray="6 5" ifOverflow="visible" />,
          <ReferenceArea key="obr" x1={88} x2={88} y1={6.615} y2={6.656} fill="rgba(205,92,92,0.4)" stroke="#cd5c5c" strokeWidth={4} ifOverflow="visible" />,
          textMark('htf', 70, 6.739, 'HTF OB ↑', '#9fbf9f', 50),
          ...dotMarks(m15Dots, 'm15'),
          ...labelMarks(m15Labels, 'm15'),
          textMark('obd', 89, 6.581, 'OB↓', '#c62828', 74, 700, -20),
        ]}
      />

      <div style={titleStyle(4817)}>{'3m  AVAX'}</div>
      <Panel
        top={4848}
        plotH={1246}
        xh={220}
        rows={m3Rows}
        volMax={306}
        domain={[6.484, 7.345]}
        yTicks={[6.5, 6.6, 6.7, 6.8, 6.9, 7.0, 7.1, 7.2, 7.3]}
        xTicks={dateTicks}
        dates
        back={[topZone('m3')]}
        mid={[
          <ReferenceLine key="eqh" y={6.601} stroke="#d05050" strokeWidth={6} strokeDasharray="22 12" />,
          <ReferenceLine key="eql" y={6.5875} stroke="#33a852" strokeWidth={6} strokeDasharray="22 12" />,
        ]}
        front={[
          legendMark('leg', 6.5, 2516, 845, 1202, 160, eqLegendBody),
          ringMark('er', 67, 6.6, '#cc2a2a', 19),
          textMark('ert', 67, 6.627, 'Entry Ref', '#c0392b', 38),
          triMark('t1', 75, 6.603),
          triMark('t2', 84, 6.634),
          textMark('eqht', 88, 6.616, 'EQH', '#c0392b', 38, 400, -10),
          textMark('eqlt', 88, 6.572, 'EQL', '#2e8b3a', 38, 400, -10),
        ]}
      />

      <div style={{ position: 'absolute', left: 2124, width: 200, top: 6303, textAlign: 'center', fontSize: 34, lineHeight: '44px', color: '#222' }}>
        Date
      </div>
    </div>
  )
}
